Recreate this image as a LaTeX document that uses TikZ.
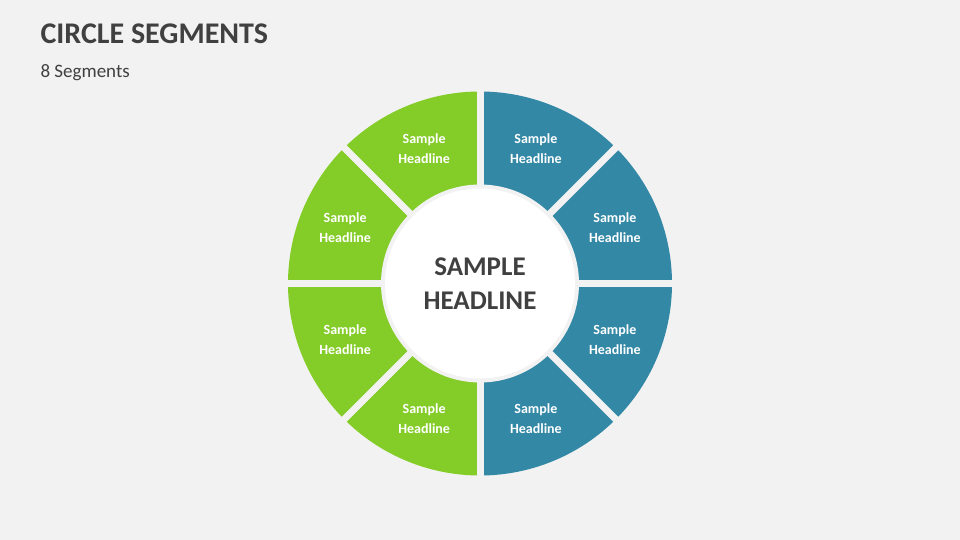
\documentclass[tikz,border=0pt]{standalone}
\usepackage{fontspec}
\setmainfont{Carlito}
\usetikzlibrary{calc}
\definecolor{bg}{HTML}{F2F2F2}
\definecolor{grn}{HTML}{84CC28}
\definecolor{blu}{HTML}{3388A6}
\definecolor{dark}{HTML}{404040}
\begin{document}
\begin{tikzpicture}[x=1pt,y=-1pt,
  lbl/.style={text=white,font=\bfseries\fontsize{14}{20}\selectfont,align=center},
  sep/.style={line width=7pt,bg}]
\fill[bg] (0,0) rectangle (960,540);
\useasboundingbox (0,0) rectangle (960,540);
\node[anchor=west,text=dark,font=\bfseries\fontsize{30}{34}\selectfont] (title) at (37,34) {CIRCLE SEGMENTS};
\node[anchor=west,text=dark,font=\fontsize{19}{22}\selectfont] (sub) at (37,73) {8 Segments};
\coordinate (c) at (480,283.5);
\begin{scope}[y=1pt]
\foreach \a/\col in {0/blu,45/blu,90/grn,135/grn,180/grn,225/grn,270/blu,315/blu}{
  \fill[\col] (c) -- ++(\a:192) arc[start angle=\a,end angle=\a+45,radius=192] -- cycle;
}
\foreach \a in {0,45,...,315}{
  \draw[sep] (c) -- ++(\a:200);
}
\fill[bg] (c) circle (99);
\node[circle,fill=white,minimum size=190pt,inner sep=0pt,text=dark,align=center,
  font=\bfseries\fontsize{27}{34}\selectfont] (ctr) at (c) {SAMPLE\\HEADLINE};
\foreach \a/\n in {22.5/s1,67.5/s2,112.5/s3,157.5/s4,202.5/s5,247.5/s6,292.5/s7,337.5/s8}{
  \node[lbl] (\n) at ($(c)+(\a:146)$) {Sample\\Headline};
}
\end{scope}
\end{tikzpicture}
\end{document}
